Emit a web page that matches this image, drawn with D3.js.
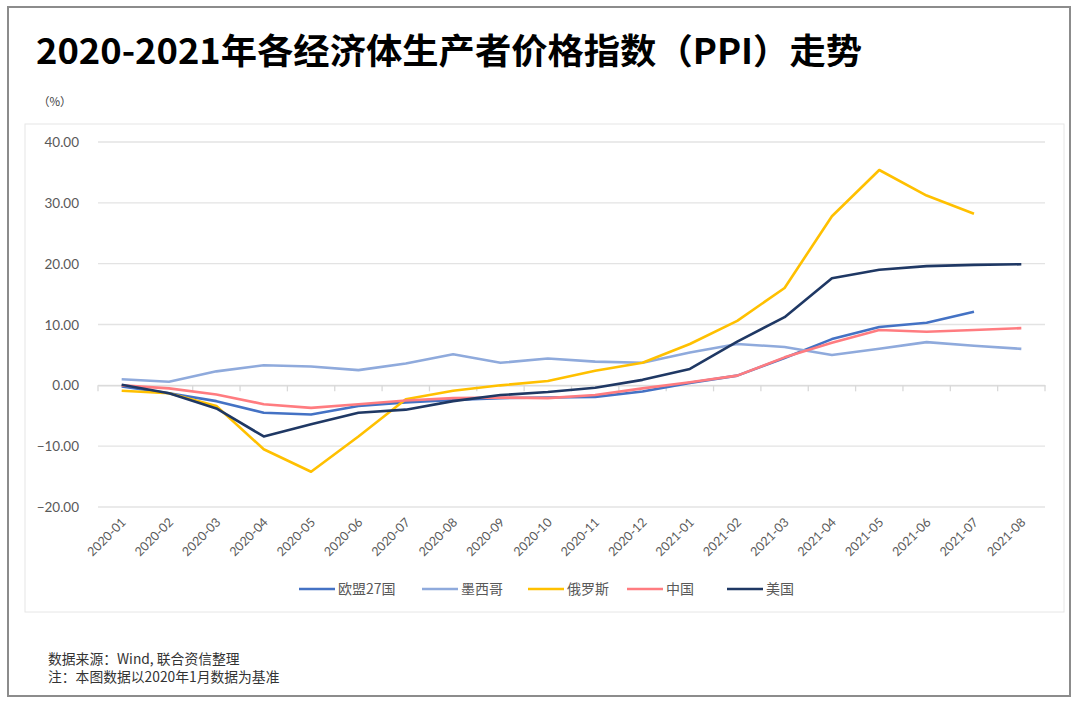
<!DOCTYPE html>
<html>
<head>
<meta charset="utf-8">
<script src="https://cdn.jsdelivr.net/npm/d3@7"></script>
<style>
  body { margin: 0; background: #fff; }
  svg { display: block; }
</style>
</head>
<body>
<svg id="chart" width="1080" height="705"></svg>
<script>
// months on the x axis
let months = ["2020-01","2020-02","2020-03","2020-04","2020-05","2020-06","2020-07","2020-08","2020-09","2020-10",
              "2020-11","2020-12","2021-01","2021-02","2021-03","2021-04","2021-05","2021-06","2021-07","2021-08"];
let yTicks = [-20, -10, 0, 10, 20, 30, 40];

// PPI vs 2020-01, %
let eu27   = [-0.2, -1.3, -2.6, -4.5, -4.8, -3.4, -2.8, -2.4, -2.1, -2.0, -1.9, -1.0, 0.4, 1.6, 4.5, 7.6, 9.6, 10.3, 12.1, null];
let mexico = [1.0, 0.6, 2.3, 3.3, 3.1, 2.5, 3.6, 5.1, 3.7, 4.4, 3.9, 3.7, 5.4, 6.8, 6.3, 5.0, 6.0, 7.1, 6.5, 6.0];
let russia = [-0.9, -1.3, -3.4, -10.5, -14.2, -8.4, -2.3, -0.9, 0.0, 0.7, 2.4, 3.7, 6.8, 10.6, 16.0, 27.8, 35.4, 31.2, 28.2, null];
let china  = [0.0, -0.5, -1.5, -3.1, -3.7, -3.1, -2.5, -2.1, -2.0, -2.1, -1.6, -0.5, 0.5, 1.6, 4.6, 7.0, 9.1, 8.8, 9.1, 9.4];
let usa    = [0.1, -1.3, -3.8, -8.4, -6.4, -4.5, -4.0, -2.6, -1.6, -1.1, -0.4, 0.9, 2.7, 7.2, 11.2, 17.6, 19.0, 19.6, 19.8, 19.9];

let series = [
  {name: "欧盟27国", values: eu27,   color: "#4472c4"},
  {name: "墨西哥",   values: mexico, color: "#8faadc"},
  {name: "俄罗斯",   values: russia, color: "#ffc000"},
  {name: "中国",     values: china,  color: "#ff7c80"},
  {name: "美国",     values: usa,    color: "#1f3864"}
];

let svg = d3.select("#chart");

// outer frame and chart area
svg.append("rect").attr("x", 8).attr("y", 7).attr("width", 1062).attr("height", 689)
  .attr("fill", "#fff").attr("stroke", "#8c8c8c").attr("stroke-width", 2);
svg.append("rect").attr("x", 25).attr("y", 124).attr("width", 1039).attr("height", 488)
  .attr("fill", "none").attr("stroke", "#e6e6e6").attr("stroke-width", 1);

svg.append("text").attr("x", 36).attr("y", 64)
  .attr("font-family", "'Noto Sans CJK SC', sans-serif").attr("font-weight", "bold")
  .attr("font-size", 35).attr("fill", "#000")
  .attr("textLength", 826).attr("lengthAdjust", "spacingAndGlyphs")
  .text("2020-2021年各经济体生产者价格指数（PPI）走势");

svg.append("text").attr("x", 38).attr("y", 106)
  .attr("font-family", "'Noto Sans CJK SC', sans-serif").attr("font-size", 11.5).attr("fill", "#404040")
  .text("（%）");

let x = d3.scaleBand().domain(months).range([98, 1045]);
let y = d3.scaleLinear().domain([-20, 40]).range([507, 142]);

// gridlines
svg.append("g").selectAll("line").data(yTicks).join("line")
  .attr("x1", 98).attr("x2", 1045)
  .attr("y1", d => y(d)).attr("y2", d => y(d))
  .attr("stroke", "#e3e3e3").attr("stroke-width", 1.3);

// y axis labels
svg.append("g").selectAll("text").data(yTicks).join("text")
  .attr("x", 79).attr("y", d => y(d) + 5)
  .attr("text-anchor", "end")
  .attr("font-family", "Lato, 'Open Sans', sans-serif").attr("font-size", 13.5).attr("fill", "#595959")
  .text(d => d3.format(".2f")(d));

// category axis on the zero line
let xAxis = svg.append("g").attr("transform", `translate(0,${y(0)})`)
  .call(d3.axisBottom(x).tickSize(0).tickFormat(""));
xAxis.select(".domain").attr("stroke", "#d9d9d9").attr("stroke-width", 1.3);
xAxis.selectAll(".bound").data(months.concat(["end"])).join("line")
  .attr("class", "bound")
  .attr("x1", (d, i) => x.range()[0] + i * x.step()).attr("x2", (d, i) => x.range()[0] + i * x.step())
  .attr("y1", 0).attr("y2", 6).attr("stroke", "#d9d9d9").attr("stroke-width", 1.3);

// rotated month labels
svg.append("g").selectAll("text").data(months).join("text")
  .attr("transform", d => `translate(${x(d) + x.bandwidth() / 2 + 5},${523}) rotate(-45)`)
  .attr("text-anchor", "end")
  .attr("font-family", "Lato, 'Open Sans', sans-serif").attr("font-size", 12.5).attr("fill", "#595959")
  .text(d => d);

// lines
let line = d3.line()
  .defined(d => d != null)
  .x((d, i) => x(months[i]) + x.bandwidth() / 2)
  .y(d => y(d));

svg.append("g").selectAll("path").data(series).join("path")
  .attr("d", s => line(s.values))
  .attr("fill", "none")
  .attr("stroke", s => s.color)
  .attr("stroke-width", 2.6)
  .attr("stroke-linejoin", "round");

// legend
let legendX = [299, 422, 528, 627, 727];
let legend = svg.append("g").selectAll("g").data(series).join("g")
  .attr("transform", (s, i) => `translate(${legendX[i]},589)`);
legend.append("line").attr("x1", 0).attr("x2", 36).attr("y1", 0).attr("y2", 0)
  .attr("stroke", s => s.color).attr("stroke-width", 2.6);
legend.append("text").attr("x", 39).attr("y", 5)
  .attr("font-family", "'Noto Sans CJK SC', sans-serif").attr("font-size", 14).attr("fill", "#595959")
  .text(s => s.name);

// notes
svg.append("text").attr("x", 48).attr("y", 664)
  .attr("font-family", "'Noto Sans CJK SC', sans-serif").attr("font-size", 13.8).attr("fill", "#333")
  .text("数据来源：Wind, 联合资信整理");
svg.append("text").attr("x", 48).attr("y", 682)
  .attr("font-family", "'Noto Sans CJK SC', sans-serif").attr("font-size", 13.8).attr("fill", "#333")
  .text("注：本图数据以2020年1月数据为基准");
</script>
</body>
</html>
